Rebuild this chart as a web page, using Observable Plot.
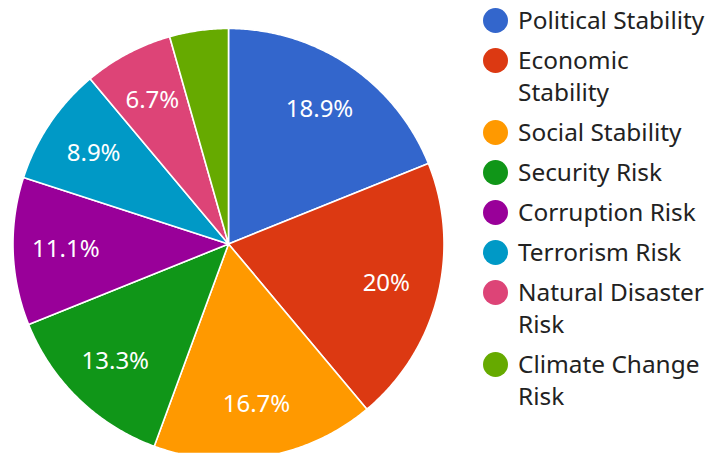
<!DOCTYPE html>
<html>
<head>
<meta charset="utf-8">
<script src="https://cdn.jsdelivr.net/npm/d3@7"></script>
<script src="https://cdn.jsdelivr.net/npm/@observablehq/plot@0.6"></script>
<style>
  html, body { margin: 0; padding: 0; background: #fff; }
  body { width: 709px; height: 453px; position: relative; overflow: hidden; font-family: "Noto Sans", "Open Sans", sans-serif; }
  #chart { position: absolute; left: 0; top: 0; }
  #legend { position: absolute; left: 483px; top: 4px; width: 226px; }
  .item { display: flex; align-items: flex-start; margin-bottom: 8px; }
  .sw { width: 25px; height: 25px; border-radius: 50%; flex: none; margin-top: 3.5px; margin-right: 10px; }
  .lab { font-size: 24.4px; line-height: 32px; color: #222; width: 191px; }
</style>
</head>
<body>
<div id="chart"></div>
<div id="legend"></div>
<script>
const categories = ["Political Stability", "Economic Stability", "Social Stability", "Security Risk", "Corruption Risk", "Terrorism Risk", "Natural Disaster Risk", "Climate Change Risk"];
const values = [18.9, 20, 16.7, 13.3, 11.1, 8.9, 6.7, 4.4];
const colors = ["#3366cc", "#dc3912", "#ff9900", "#109618", "#990099", "#0099c6", "#dd4477", "#66aa00"];

const W = 470, H = 453, CX = 228, CY = 243.5, R = 215.5;

const pie = d3.pie().sort(null).startAngle(0).endAngle(2 * Math.PI)(values);
const total = d3.sum(values);

const slices = pie.map((p, i) => {
  const n = Math.max(2, Math.ceil((p.endAngle - p.startAngle) / (Math.PI / 360)));
  const ring = [[0, 0]];
  for (let k = 0; k <= n; k++) {
    const a = p.startAngle + (p.endAngle - p.startAngle) * k / n;
    ring.push([Math.sin(a), Math.cos(a)]);
  }
  ring.push([0, 0]);
  return {type: "Feature", properties: {name: categories[i], color: colors[i]}, geometry: {type: "Polygon", coordinates: [ring]}};
});

const labels = pie.map((p, i) => {
  const m = (p.startAngle + p.endAngle) / 2;
  const pct = values[i] / total * 100;
  return {x: 0.755 * Math.sin(m), y: 0.755 * Math.cos(m), text: `${+pct.toFixed(1)}%`, show: pct >= 5};
}).filter(d => d.show);

// frame rectangle in pie units (radius = 1), used to fit the projection
const x0 = -CX / R, x1 = (W - CX) / R, y0 = -(H - CY) / R, y1 = CY / R;
const frame = {type: "Polygon", coordinates: [[[x0, y0], [x1, y0], [x1, y1], [x0, y1], [x0, y0]]]};

const chart = Plot.plot({
  width: W, height: H, margin: 0,
  projection: {type: "reflect-y", domain: frame},
  style: {fontFamily: "'Noto Sans', 'Open Sans', sans-serif", background: "#fff"},
  marks: [
    Plot.geo(slices, {fill: d => d.properties.color, stroke: "#fff", strokeWidth: 1.6, strokeLinejoin: "round"}),
    Plot.text(labels, {x: "x", y: "y", text: "text", fill: "#fff", fontSize: 24})
  ]
});
document.getElementById("chart").append(chart);

const legend = document.getElementById("legend");
categories.forEach((c, i) => {
  const it = document.createElement("div");
  it.className = "item";
  const sw = document.createElement("div");
  sw.className = "sw";
  sw.style.background = colors[i];
  const lab = document.createElement("div");
  lab.className = "lab";
  lab.textContent = c;
  it.append(sw, lab);
  legend.append(it);
});
</script>
</body>
</html>
